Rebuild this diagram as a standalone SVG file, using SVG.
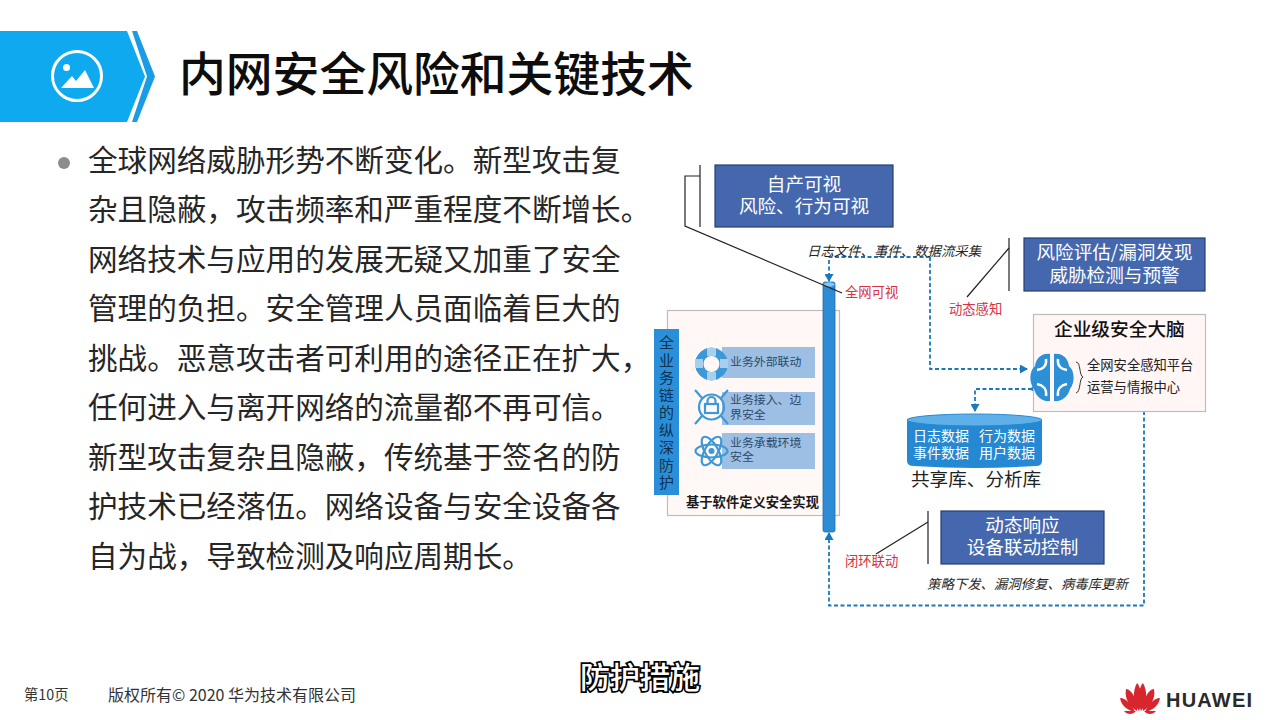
<svg xmlns="http://www.w3.org/2000/svg" width="1280" height="720" viewBox="0 0 1280 720">
<style>
text{font-family:"Noto Sans CJK SC","Liberation Sans",sans-serif}
.body{font-size:29.6px;fill:#262626}
.box{fill:#4467ae;stroke:#253f73;stroke-width:1.2}
.wt{fill:#fff;font-size:18.6px;text-anchor:middle}
.red{fill:#d8323f;font-size:13.3px}
.it{font-style:italic;font-size:13.4px;fill:#262626}
.bk{fill:none;stroke:#595959;stroke-width:1.6}
.ln{fill:none;stroke:#222;stroke-width:1.2}
.dash{fill:none;stroke:#1a78bd;stroke-width:1.8;stroke-dasharray:4 2.5}
.row{fill:#9dbfe4}
.rt{font-size:11.9px;fill:#2b4a6a}
.ic{fill:none;stroke:#3d98d8;stroke-width:2.2}
.db{fill:#fff;font-size:14px}
.side{font-size:15px;fill:#10324f;text-anchor:middle}
</style>
<defs>
<marker id="ah" markerWidth="9" markerHeight="9" refX="7" refY="4.500" orient="auto" markerUnits="userSpaceOnUse"><path d="M0 0L8 4.500L0 9Z" fill="#1a78bd"/></marker>
</defs>
<rect width="1280" height="720" fill="#fff"/>
<g id="header">
<path d="M0 31H127L145 76.500L127 122H0Z" fill="#0fa9ef"/>
<path d="M132 31H137L155 76.500L137 122H132L147 76.500Z" fill="#1a9be6"/>
<circle cx="77" cy="76" r="24.500" fill="none" stroke="#fff" stroke-width="3"/>
<circle cx="66.500" cy="67.500" r="3.500" fill="#fff"/>
<path d="M61 88L72 76L76 81L85 70L94 88Z" fill="#fff"/>
<text x="179" y="91" font-size="46.800px" font-weight="500" fill="#0d0d0d">内网安全风险和关键技术</text>
</g>
<g id="bullet-text">
<circle cx="64" cy="163" r="6" fill="#8c8c8c"/>
<text class="body" x="88" y="171">全球网络威胁形势不断变化。新型攻击复</text>
<text class="body" x="88" y="220">杂且隐蔽，攻击频率和严重程度不断增长。</text>
<text class="body" x="88" y="270">网络技术与应用的发展无疑又加重了安全</text>
<text class="body" x="88" y="319">管理的负担。安全管理人员面临着巨大的</text>
<text class="body" x="88" y="369">挑战。恶意攻击者可利用的途径正在扩大，</text>
<text class="body" x="88" y="418">任何进入与离开网络的流量都不再可信。</text>
<text class="body" x="88" y="468">新型攻击复杂且隐蔽，传统基于签名的防</text>
<text class="body" x="88" y="517">护技术已经落伍。网络设备与安全设备各</text>
<text class="body" x="88" y="567">自为战，导致检测及响应周期长。</text>
</g>
<g id="panel">
<rect x="667.500" y="310.500" width="172" height="205" fill="#fff8f6" stroke="#bdbdbd" stroke-width="1.2"/>
<text x="686" y="507" font-size="13.300px" font-weight="700" fill="#1a1a1a">基于软件定义安全实现</text>
</g>
<g id="side-label">
<rect x="654" y="329" width="25" height="166" fill="#2a8fd8"/>
<text class="side" x="666.500" y="348">全</text><text class="side" x="666.500" y="365.500">业</text><text class="side" x="666.500" y="383">务</text><text class="side" x="666.500" y="400.500">链</text><text class="side" x="666.500" y="418">的</text><text class="side" x="666.500" y="435.500">纵</text><text class="side" x="666.500" y="453">深</text><text class="side" x="666.500" y="470.500">防</text><text class="side" x="666.500" y="488">护</text>
</g>
<g id="row-1">
<rect class="row" x="722" y="347" width="93" height="31"/>
<circle cx="711.500" cy="364" r="12" fill="none" stroke="#3d98d8" stroke-width="8"/>
<circle cx="711.500" cy="364" r="16" fill="none" stroke="#3d98d8" stroke-width="1"/>
<path d="M707 348h9v8h-9zM707 372h9v8h-9zM695 359h8v9h-8zM720 359h8v9h-8z" fill="#a7d0ee"/>
<text class="rt" x="730" y="366">业务外部联动</text>
</g>
<g id="row-2">
<rect class="row" x="722" y="392" width="93" height="33"/>
<circle class="ic" cx="711.500" cy="407" r="12.500"/>
<path class="ic" d="M695 390L702 398M728 390L721 398M695 424L702 416M728 424L721 416"/>
<rect class="ic" x="705" y="404" width="13" height="9"/>
<path class="ic" d="M707.500 404v-3a4 4 0 0 1 8 0v3"/>
<text class="rt" x="730" y="404">业务接入、边</text>
<text class="rt" x="730" y="419">界安全</text>
</g>
<g id="row-3">
<rect class="row" x="722" y="433" width="93" height="36"/>
<g class="ic">
<ellipse cx="711.500" cy="451" rx="16" ry="6.500"/>
<ellipse cx="711.500" cy="451" rx="16" ry="6.500" transform="rotate(60 711.500 451)"/>
<ellipse cx="711.500" cy="451" rx="16" ry="6.500" transform="rotate(120 711.500 451)"/>
</g>
<circle cx="711.500" cy="451" r="3" fill="#3d98d8"/>
<text class="rt" x="730" y="447">业务承载环境</text>
<text class="rt" x="730" y="461">安全</text>
</g>
<g id="bus">
<rect x="823" y="282" width="12" height="250" rx="2" fill="#2e8bd6" stroke="#1d6fb0" stroke-width="0.800"/>
<ellipse cx="829" cy="284.500" rx="5.500" ry="2.200" fill="#8cc4ee"/>
</g>
<g id="connectors">
<path class="bk" d="M700 165V227M1009 238V291M928 511V564"/>
<path class="ln" d="M700 176H685V226L842 293M1009 248L967 297M928 522L876 554"/>
<path class="dash" d="M930 257H829V281" marker-end="url(#ah)"/>
<path class="dash" d="M930 257V369H1027" marker-end="url(#ah)"/>
<path class="dash" d="M1032 389H975V411" marker-end="url(#ah)"/>
<path class="dash" d="M1032 389H1030" marker-end="url(#ah)"/>
<path class="dash" d="M1144 411V605.500H829V533" marker-end="url(#ah)"/>
</g>
<g id="box-visible">
<rect class="box" x="715" y="165" width="178" height="62"/>
<text class="wt" x="804" y="191">自产可视</text>
<text class="wt" x="804" y="213">风险、行为可视</text>
</g>
<g id="box-assess">
<rect class="box" x="1024" y="238" width="181" height="53"/>
<text class="wt" x="1114.500" y="259">风险评估/漏洞发现</text>
<text class="wt" x="1114.500" y="282">威胁检测与预警</text>
</g>
<g id="box-response">
<rect class="box" x="941" y="511" width="163" height="53"/>
<text class="wt" x="1022.500" y="532">动态响应</text>
<text class="wt" x="1022.500" y="554">设备联动控制</text>
</g>
<g id="labels">
<text class="it" x="807" y="256">日志文件、事件、数据流采集</text>
<text class="it" x="927" y="589">策略下发、漏洞修复、病毒库更新</text>
<text class="red" x="845" y="297">全网可视</text>
<text class="red" x="949" y="314">动态感知</text>
<text class="red" x="845" y="566">闭环联动</text>
</g>
<g id="brain-box">
<rect x="1033.500" y="314.500" width="172" height="97" fill="#fff6f5" stroke="#bdbdbd" stroke-width="1.2"/>
<text x="1054" y="336" font-size="18.700px" font-weight="500" fill="#111">企业级安全大脑</text>
<path d="M1050 354C1042 353 1036 358 1035 366C1029 371 1029 383 1034 389C1036 397 1043 402 1050 401Z" fill="#2d8fd5"/>
<path d="M1054 354C1062 353 1068 358 1069 366C1075 371 1075 383 1070 389C1068 397 1061 402 1054 401Z" fill="#2d8fd5"/>
<path d="M1046 359C1047 366 1043 369 1037 370M1058 359C1057 366 1061 369 1067 370M1046 396C1047 389 1043 385 1037 384M1058 396C1057 389 1061 385 1067 384" fill="none" stroke="#fff" stroke-width="2.500"/>
<path d="M1076 362C1081 362 1079 376 1083 377C1079 378 1081 392 1076 393" fill="none" stroke="#333" stroke-width="1"/>
<text x="1087" y="370" font-size="13.300px" fill="#222">全网安全感知平台</text>
<text x="1087" y="392" font-size="13.300px" fill="#222">运营与情报中心</text>
</g>
<g id="database">
<path d="M907 420V461Q907 466 914 466Q975 470 1036 466Q1042 466 1042 461V420Z" fill="#2489d2"/>
<ellipse cx="974.500" cy="420" rx="67.500" ry="6" fill="#5fb0e8" stroke="#2489d2"/>
<text class="db" x="913" y="441">日志数据</text><text class="db" x="979" y="441">行为数据</text>
<text class="db" x="913" y="458">事件数据</text><text class="db" x="979" y="458">用户数据</text>
<text x="911" y="486" font-size="18.600px" fill="#222">共享库、分析库</text>
</g>
<g id="footer">
<text x="24" y="700" font-size="14.300px" fill="#333">第10页</text>
<text x="108" y="701" font-size="16px" fill="#333">版权所有© 2020 华为技术有限公司</text>
<text x="640" y="688" font-size="30px" text-anchor="middle" fill="#fff" stroke="#000" stroke-width="3.500" paint-order="stroke" font-weight="500">防护措施</text>
</g>
<g id="logo">
<g fill="#d8262f">
<path d="M1139 711C1133 704 1132 692 1137 683C1141 686 1143 702 1139 711Z"/>
<path d="M1141 711C1147 704 1148 692 1143 683C1139 686 1137 702 1141 711Z"/>
<path d="M1137 711C1130 707 1124 699 1126 689C1132 689 1138 702 1137 711Z"/>
<path d="M1143 711C1150 707 1156 699 1154 689C1148 689 1142 702 1143 711Z"/>
<path d="M1135 712C1129 711 1121 706 1120 698C1126 698 1133 706 1135 712Z"/>
<path d="M1145 712C1151 711 1159 706 1160 698C1154 698 1147 706 1145 712Z"/>
<path d="M1124 711H1136C1133 715 1127 715 1124 711Z"/>
<path d="M1144 711H1156C1153 715 1147 715 1144 711Z"/>
</g>
<text x="1166" y="707" style="font-family:'Liberation Sans',sans-serif;letter-spacing:1.2px" font-size="20px" font-weight="700" fill="#2a2a2a">HUAWEI</text>
</g>
</svg>
